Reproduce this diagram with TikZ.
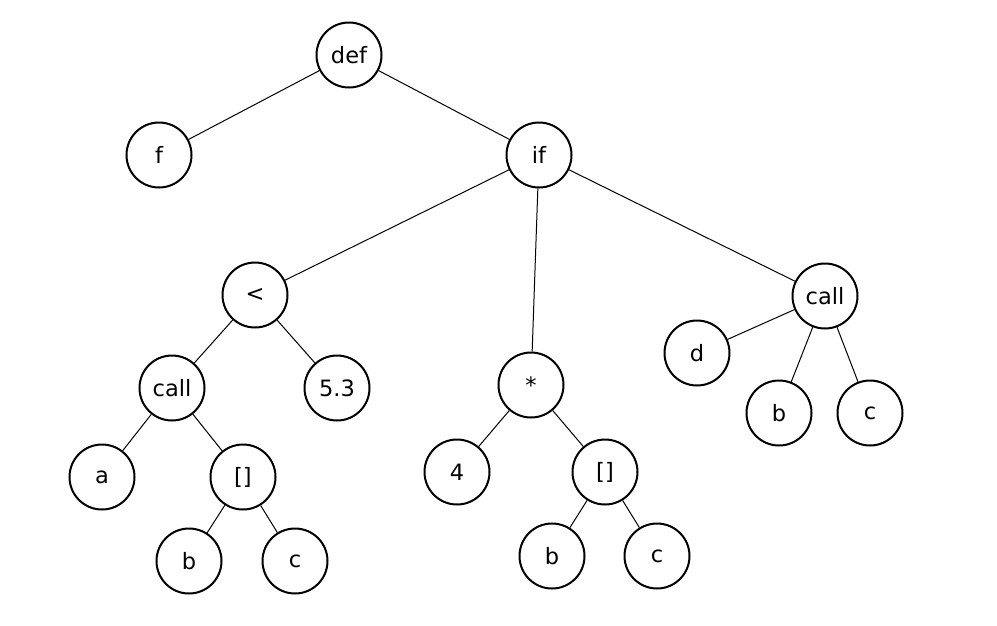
\documentclass[tikz,border=0pt]{standalone}
\usepackage{fontspec}
\setmainfont{DejaVu Sans}
\usetikzlibrary{arrows}

\begin{document}
\begin{tikzpicture}[x = 1pt, y = -1pt, % pixel units, y down
                auto, % node placement
                line width = 1pt % line style
            ]

            \tikzstyle{every node}=[draw = black, circle, line width = 2pt,
            minimum size = 65pt, inner sep = 0pt,
            font = \fontsize{22.5}{27}\selectfont]

            \useasboundingbox (0,0) rectangle (997,625);

            \node (def) at (349,55) {def}; \node (f) at (159,155) {f};
            \node (if) at (539,155) {if}; \node (lt) at (255,295) {<};
            \node (call1) at (172,388) {call}; \node (53) at (337,388)
            {5.3}; \node (a) at (102,477) {a}; \node (idx1) at (243,477)
            {[]}; \node (b1) at (189,561) {b}; \node (c1) at (295,561) {c};
            \node (mul) at (531,385) {*}; \node (4) at (457,472) {4};
            \node (idx2) at (605,472) {[]}; \node (b2) at (552,556) {b};
            \node (c2) at (657,556) {c}; \node (call2) at (825,296) {call};
            \node (d) at (697,353) {d}; \node (b3) at (779,413) {b};
            \node (c3) at (870,413) {c};

            \path (def) edge (f); \path (def) edge (if); \path (if) edge
            (lt); \path (if) edge (mul); \path (if) edge (call2); \path (lt)
            edge (call1); \path (lt) edge (53); \path (call1) edge (a);
            \path (call1) edge (idx1); \path (idx1) edge (b1); \path (idx1)
            edge (c1); \path (mul) edge (4); \path (mul) edge (idx2); \path
            (idx2) edge (b2); \path (idx2) edge (c2); \path (call2) edge
            (d); \path (call2) edge (b3); \path (call2) edge (c3);
\end{tikzpicture}
\end{document}
